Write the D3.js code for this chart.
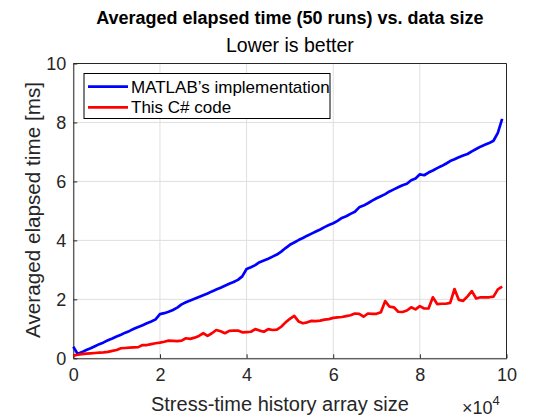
<!DOCTYPE html>
<html>
<head>
<meta charset="utf-8">
<script src="https://cdn.jsdelivr.net/npm/d3@7"></script>
<style>
  body { margin: 0; background: #fff; }
  text { font-family: "Liberation Sans", Arial, Helvetica, sans-serif; }
</style>
</head>
<body>
<div id="chart"></div>
<script>
// array sizes (in units of 1e4 on the axis)
var sizes = [0, 1000, 2000, 3000, 4000, 5000, 6000, 7000, 8000, 9000,
  10000, 11000, 12000, 13000, 14000, 15000, 16000, 17000, 18000, 19000,
  20000, 21000, 22000, 23000, 24000, 25000, 26000, 27000, 28000, 29000,
  30000, 31000, 32000, 33000, 34000, 35000, 36000, 37000, 38000, 39000,
  40000, 41000, 42000, 43000, 44000, 45000, 46000, 47000, 48000, 49000,
  50000, 51000, 52000, 53000, 54000, 55000, 56000, 57000, 58000, 59000,
  60000, 61000, 62000, 63000, 64000, 65000, 66000, 67000, 68000, 69000,
  70000, 71000, 72000, 73000, 74000, 75000, 76000, 77000, 78000, 79000,
  80000, 81000, 82000, 83000, 84000, 85000, 86000, 87000, 88000, 89000,
  90000, 91000, 92000, 93000, 94000, 95000, 96000, 97000, 98000, 99000];

// MATLAB's implementation [ms]
var matlabTimes = [0.39, 0.15, 0.21, 0.28, 0.34, 0.41, 0.48, 0.54, 0.61, 0.67,
  0.74, 0.80, 0.87, 0.93, 1.00, 1.06, 1.12, 1.19, 1.25, 1.32,
  1.50, 1.53, 1.58, 1.64, 1.72, 1.83, 1.90, 1.96, 2.02, 2.08,
  2.14, 2.20, 2.27, 2.33, 2.39, 2.46, 2.53, 2.59, 2.66, 2.78,
  3.03, 3.09, 3.16, 3.26, 3.32, 3.38, 3.45, 3.52, 3.62, 3.74,
  3.85, 3.93, 4.01, 4.08, 4.16, 4.23, 4.30, 4.37, 4.45, 4.52,
  4.58, 4.66, 4.76, 4.82, 4.90, 4.97, 5.12, 5.18, 5.26, 5.35,
  5.43, 5.50, 5.57, 5.66, 5.73, 5.80, 5.87, 5.92, 6.04, 6.10,
  6.24, 6.21, 6.30, 6.37, 6.45, 6.52, 6.60, 6.69, 6.75, 6.82,
  6.88, 6.93, 7.02, 7.10, 7.18, 7.24, 7.30, 7.38, 7.65, 8.12];

// This C# code [ms]
var csharpTimes = [0.09, 0.12, 0.14, 0.16, 0.17, 0.18, 0.19, 0.20, 0.22, 0.25,
  0.28, 0.34, 0.35, 0.36, 0.37, 0.38, 0.45, 0.45, 0.48, 0.51,
  0.53, 0.56, 0.60, 0.59, 0.58, 0.60, 0.68, 0.66, 0.70, 0.76,
  0.85, 0.76, 0.85, 0.96, 0.92, 0.85, 0.93, 0.94, 0.94, 0.88,
  0.89, 0.90, 0.99, 0.94, 0.90, 0.99, 0.96, 0.97, 1.07, 1.22,
  1.34, 1.44, 1.25, 1.19, 1.22, 1.27, 1.26, 1.28, 1.31, 1.33,
  1.37, 1.39, 1.40, 1.43, 1.46, 1.52, 1.51, 1.41, 1.52, 1.51,
  1.51, 1.56, 1.94, 1.75, 1.73, 1.58, 1.57, 1.62, 1.73, 1.66,
  1.77, 1.69, 1.69, 2.07, 1.84, 1.85, 1.85, 1.88, 2.35, 1.98,
  1.95, 2.10, 2.28, 2.03, 2.07, 2.07, 2.07, 2.09, 2.34, 2.43];

var xTicks = [0, 2, 4, 6, 8, 10];
var yTicks = [0, 2, 4, 6, 8, 10];

var seriesNames = ["MATLAB\u2019s implementation", "This C# code"];
var seriesColors = ["#0000ff", "#ff0000"];

var width = 560, height = 420;
var plotLeft = 73.3, plotRight = 506.5, plotTop = 63.5, plotBottom = 358.3;
var axisColor = "#262626";

var svg = d3.select("#chart").append("svg")
    .attr("width", width)
    .attr("height", height);

// scales (x axis shown in units of 1e4)
var x = d3.scaleLinear().domain([0, 10]).range([plotLeft, plotRight]);
var y = d3.scaleLinear().domain([0, 10]).range([plotBottom, plotTop]);

// grid
svg.append("g").selectAll("line")
    .data(xTicks).enter().append("line")
    .attr("x1", function (d) { return x(d); })
    .attr("x2", function (d) { return x(d); })
    .attr("y1", plotTop).attr("y2", plotBottom)
    .attr("stroke", "#dfdfdf").attr("stroke-width", 1);

svg.append("g").selectAll("line")
    .data(yTicks).enter().append("line")
    .attr("x1", plotLeft).attr("x2", plotRight)
    .attr("y1", function (d) { return y(d); })
    .attr("y2", function (d) { return y(d); })
    .attr("stroke", "#dfdfdf").attr("stroke-width", 1);

// axes, ticks pointing inside
var xAxis = svg.append("g")
    .attr("transform", "translate(0," + plotBottom + ")")
    .call(d3.axisBottom(x).tickValues(xTicks).tickSizeInner(-4).tickSizeOuter(0).tickPadding(10));
var yAxis = svg.append("g")
    .attr("transform", "translate(" + plotLeft + ",0)")
    .call(d3.axisLeft(y).tickValues(yTicks).tickSizeInner(-4).tickSizeOuter(0).tickPadding(7));

[xAxis, yAxis].forEach(function (g) {
    g.select(".domain").attr("stroke", axisColor);
    g.selectAll(".tick line").attr("stroke", axisColor);
    g.selectAll(".tick text")
        .attr("fill", axisColor)
        .style("font-size", "18px")
        .style("font-family", "'Liberation Sans', Arial, sans-serif");
});

// box top and right
svg.append("line").attr("x1", plotLeft).attr("x2", plotRight).attr("y1", plotTop).attr("y2", plotTop)
    .attr("stroke", axisColor);
svg.append("line").attr("x1", plotRight).attr("x2", plotRight).attr("y1", plotTop).attr("y2", plotBottom)
    .attr("stroke", axisColor);

// lines
var line = d3.line()
    .x(function (d) { return x(d[0] / 1e4); })
    .y(function (d) { return y(d[1]); });

[matlabTimes, csharpTimes].forEach(function (vals, i) {
    svg.append("path")
        .datum(sizes.map(function (s, j) { return [s, vals[j]]; }))
        .attr("fill", "none")
        .attr("stroke", seriesColors[i])
        .attr("stroke-width", 2.7)
        .attr("stroke-linejoin", "round")
        .attr("d", line);
});

// legend
var legend = svg.append("g");
legend.append("rect")
    .attr("x", 84).attr("y", 73.5)
    .attr("width", 246).attr("height", 45)
    .attr("fill", "#fff").attr("stroke", "#000").attr("stroke-width", 1);
seriesNames.forEach(function (name, i) {
    var cy = 86.7 + i * 20.6;
    legend.append("line")
        .attr("x1", 88).attr("x2", 128)
        .attr("y1", cy).attr("y2", cy)
        .attr("stroke", seriesColors[i]).attr("stroke-width", 2.7);
    legend.append("text")
        .attr("x", 131).attr("y", cy + 6)
        .attr("fill", "#000")
        .style("font-size", "17px")
        .text(name);
});

// titles
svg.append("text")
    .attr("x", (plotLeft + plotRight) / 2).attr("y", 24)
    .attr("text-anchor", "middle")
    .style("font-size", "18px").style("font-weight", "bold")
    .attr("fill", "#000")
    .text("Averaged elapsed time (50 runs) vs. data size");
svg.append("text")
    .attr("x", (plotLeft + plotRight) / 2).attr("y", 52)
    .attr("text-anchor", "middle")
    .style("font-size", "19.5px")
    .attr("fill", "#000")
    .text("Lower is better");

// axis labels
svg.append("text")
    .attr("x", (plotLeft + plotRight) / 2 - 10).attr("y", 411)
    .attr("text-anchor", "middle")
    .style("font-size", "20px")
    .attr("fill", axisColor)
    .text("Stress-time history array size");

var expo = svg.append("text")
    .attr("x", 462).attr("y", 414)
    .style("font-size", "18px")
    .attr("fill", axisColor);
expo.append("tspan").text("\u00d710");
expo.append("tspan").attr("dy", -9).style("font-size", "13px").text("4");

svg.append("text")
    .attr("transform", "translate(40,210) rotate(-90)")
    .attr("text-anchor", "middle")
    .style("font-size", "20.7px")
    .attr("fill", axisColor)
    .text("Averaged elapsed time [ms]");
</script>
</body>
</html>
